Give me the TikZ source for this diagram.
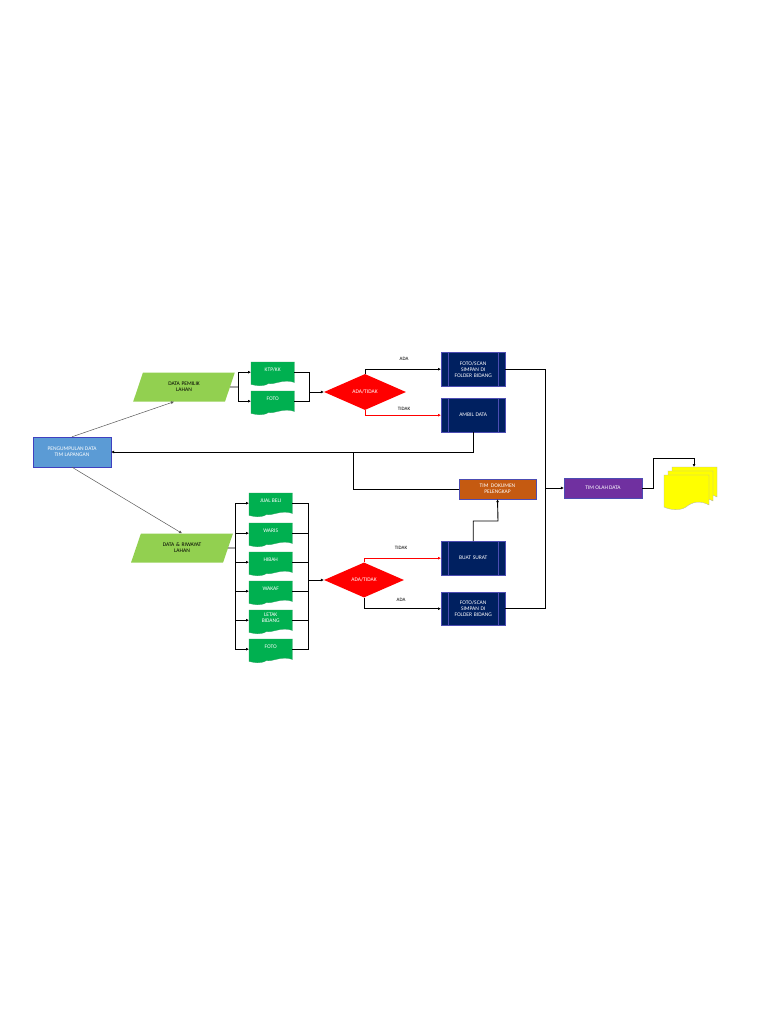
\documentclass[tikz,border=0pt]{standalone}
\usepackage{fontspec}
\setmainfont{Carlito}
\usetikzlibrary{arrows.meta,shapes.geometric,calc}
\definecolor{lblue}{HTML}{5B9BD5}
\definecolor{lgreen}{HTML}{92D050}
\definecolor{dgreen}{HTML}{00B050}
\definecolor{navy}{HTML}{002060}
\definecolor{orng}{HTML}{C55A11}
\definecolor{purp}{HTML}{7030A0}
\definecolor{yel}{HTML}{FFFF00}
\tikzset{
  every node/.style={font=\fontsize{5.5}{6}\selectfont, align=center, inner sep=1pt},
  para/.style={trapezium, trapezium left angle=62, trapezium right angle=118, fill=lgreen, minimum height=29pt, text width=50pt, trapezium stretches=true, minimum width=102pt},
  docn/.style={minimum width=43pt, minimum height=20pt, text=white, anchor=north west},
  proc/.style={rectangle, fill=navy, draw=blue!40!gray, line width=0.4pt, text=white, minimum width=64pt, text width=40pt, anchor=north west,
    path picture={\draw[blue!40!gray, line width=0.5pt] ([xshift=7pt]path picture bounding box.north west) -- ([xshift=7pt]path picture bounding box.south west)
      ([xshift=-7pt]path picture bounding box.north east) -- ([xshift=-7pt]path picture bounding box.south east);}},
  dia/.style={diamond, aspect=2.3, fill=red, text=white, inner sep=0pt},
  ln/.style={line width=0.9pt, black},
  arr/.style={ln, -{Latex[length=3pt,width=3pt]}},
  rarr/.style={line width=0.9pt, red, -{Latex[length=3pt,width=3pt]}},
  garr/.style={line width=0.5pt, gray!70!black, -{Latex[length=3pt,width=3pt]}},
  lbl/.style={font=\fontsize{5}{6}\selectfont}
}
\newcommand\docfill[2]{%
  \fill[#2, draw=#2!70!gray, line width=0.3pt] (#1.north west) -- (#1.north east) -- (#1.south east)
    .. controls ($(#1.south east)!0.5!(#1.south)+(0,4pt)$) and ($(#1.south)+(0,-3pt)$) .. ($(#1.south)+(-4pt,-1pt)$)
    .. controls ($(#1.south west)!0.5!(#1.south)+(0,-5pt)$) and ($(#1.south west)+(5pt,-3pt)$) .. ($(#1.south west)+(0,-2pt)$) -- cycle;}
\begin{document}
\begin{tikzpicture}[x=1pt,y=-1pt]
\useasboundingbox[fill=white] (0,0) rectangle (768,1024);
% main box
\node[fill=lblue, text=white, minimum width=78pt, minimum height=30pt, draw=blue!50!gray, line width=0.4pt] (peng) at (72,452) {PENGUMPULAN DATA\\TIM LAPANGAN};
\node[para] (pem) at (184,387) {DATA PEMILIK\\LAHAN};
\node[para] (riw) at (182,548) {DATA \& RIWAYAT\\LAHAN};
% docs
\node[docn] (ktp) at (251,362) {}; \docfill{ktp}{dgreen} \node[text=white] at ($(ktp.center)+(0,-2)$) {KTP/KK};
\node[docn] (foto1) at (251,391) {}; \docfill{foto1}{dgreen} \node[text=white] at ($(foto1.center)+(0,-2)$) {FOTO};
\foreach \n/\y/\t in {jb/493/JUAL BELI, wa/523/WARIS, hi/552/HIBAH, wk/581/WAKAF, lb/610/LETAK\\BIDANG, fo/639/FOTO}{
  \node[docn] (\n) at (249,\y) {}; \docfill{\n}{dgreen} \node[text=white] at ($(\n.center)+(0,-2)$) {\t};
}
% diamonds
\node[dia, minimum width=82pt, minimum height=36pt] (d1) at (365,392) {ADA/TIDAK};
\node[dia, minimum width=80pt, minimum height=35pt] (d2) at (364,580) {ADA/TIDAK};
% processes
\node[proc, minimum height=34pt] (fs1) at (441,352) {FOTO/SCAN SIMPAN DI FOLDER BIDANG};
\node[proc, minimum height=34pt] (amb) at (441,398) {AMBIL DATA};
\node[proc, minimum height=34pt] (bs) at (441,541) {BUAT SURAT};
\node[proc, minimum height=33pt] (fs2) at (441,592) {FOTO/SCAN SIMPAN DI FOLDER BIDANG};
\node[fill=orng, text=white, minimum width=77pt, minimum height=20pt, draw=blue!40!gray, line width=0.4pt] (tdk) at (497.5,489) {TIM\ \ DOKUMEN\\PELENGKAP};
\node[fill=purp, text=white, minimum width=78pt, minimum height=20pt, draw=blue!40!gray, line width=0.4pt] (tod) at (603,488) {TIM OLAH DATA};
% multi-document
\coordinate (md) at (694,467);
\foreach \dx/\dy in {8/0,4/4,0/8}{
  \fill[yel, draw=gray!60, line width=0.3pt] (664+\dx,467+\dy) -- (709+\dx,467+\dy) -- (709+\dx,497+\dy)
   .. controls (700+\dx,492+\dy) and (692+\dx,494+\dy) .. (686+\dx,499+\dy)
   .. controls (680+\dx,503+\dy) and (670+\dx,502+\dy) .. (664+\dx,499+\dy) -- cycle;
}
% connectors
\draw[garr] (peng.north) -- ($(pem.south)+(-10,0)$);
\draw[garr] (peng.south) -- (riw.north);
\draw[ln] (pem.east) -- (238,387);
\draw[arr] (238,387) |- (ktp.west);
\draw[arr] (238,387) |- (foto1.west);
\draw[ln] (ktp.east) -| (309,392);
\draw[ln] (foto1.east) -| (309,392);
\draw[arr] (309,392) -- (d1.west);
\draw[arr] (d1.north) |- (fs1.west);
\draw[rarr] (d1.south) |- (amb.west);
\node[lbl] at (404,359) {ADA};
\node[lbl] at (404,409) {TIDAK};
\draw[arr] (amb.south) |- (peng.east);
\draw[ln] (353,453) |- (tdk.west);
\draw[ln] (fs1.east) -| (545,488);
\draw[ln] (fs2.east) -| (545,488);
\draw[arr] (545,488) -- (tod.west);
\draw[arr] (bs.north) |- (498,521) -- (tdk.south);
\draw[arr] (tod.east) -| (653,458) -| (md);
\draw[ln] (riw.east) -- (235,548);
\foreach \n in {jb,wa,hi,wk,lb,fo}{
  \draw[arr] (235,548) |- (\n.west);
  \draw[ln] (\n.east) -| (308,580);
}
\draw[arr] (308,580) -- (d2.west);
\draw[rarr] (d2.north) |- (bs.west);
\draw[arr] (d2.south) |- (fs2.west);
\node[lbl] at (401,548) {TIDAK};
\node[lbl] at (401,600) {ADA};
\end{tikzpicture}
\end{document}
